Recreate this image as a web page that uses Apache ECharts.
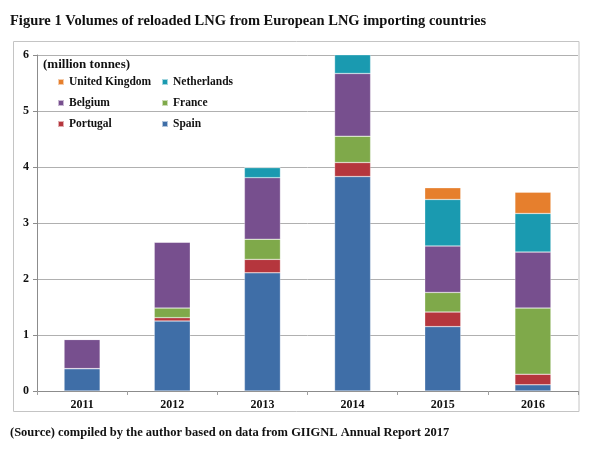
<!DOCTYPE html>
<html>
<head>
<meta charset="utf-8">
<script src="https://cdn.jsdelivr.net/npm/echarts@6/dist/echarts.min.js"></script>
<style>
html, body { margin: 0; padding: 0; background: #fff; }
#main { width: 599px; height: 461px; }
</style>
</head>
<body>
<div id="main"></div>
<script>
// 年份与各国数据 (million tonnes)
var years = ['2011', '2012', '2013', '2014', '2015', '2016'];
var spain = [0.40, 1.25, 2.11, 3.83, 1.15, 0.11];
var portugal = [0, 0.06, 0.24, 0.25, 0.26, 0.19];
var france = [0, 0.17, 0.36, 0.47, 0.35, 1.18];
var belgium = [0.52, 1.18, 1.10, 1.12, 0.83, 1.00];
var netherlands = [0, 0, 0.18, 0.35, 0.83, 0.69];
var uk = [0, 0, 0, 0, 0.21, 0.38];
var yTicks = [0, 1, 2, 3, 4, 5, 6];

var serif = '"Liberation Serif", "DejaVu Serif", serif';

var myChart = echarts.init(document.getElementById('main'));

function mkSeries(name, data, color) {
    return {
        name: name,
        type: 'bar',
        stack: 'total',
        barWidth: 36,
        data: data,
        itemStyle: { color: color, borderColor: 'rgba(255,255,255,0.6)', borderWidth: 0.5 }
    };
}

var legendText = { fontFamily: serif, fontWeight: 'bold', fontSize: 11.5, color: '#111' };

var option = {
    animation: false,
    title: [{
        text: 'Figure 1 Volumes of reloaded LNG from European LNG importing countries',
        left: 10, top: 14, padding: 0,
        textStyle: { fontFamily: serif, fontWeight: 'bold', fontSize: 14.5, color: '#111' }
    }, {
        text: '(Source) compiled by the author based on data from GIIGNL Annual Report 2017',
        left: 10, top: 426, padding: 0,
        textStyle: { fontFamily: serif, fontWeight: 'bold', fontSize: 12.5, color: '#111' }
    }],
    graphic: [{
        type: 'rect',
        shape: { x: 13.5, y: 41.5, width: 565.5, height: 370 },
        style: { fill: null, stroke: '#c4c4c4', lineWidth: 1 },
        silent: true
    }, {
        type: 'text',
        left: 43, top: 58,
        style: { text: '(million tonnes)', font: 'bold 13px ' + serif, fill: '#111' }
    }],
    legend: [{
        orient: 'vertical',
        left: 57, top: 76, padding: 0,
        itemWidth: 6, itemHeight: 6, itemGap: 9, icon: 'rect',
        data: ['United Kingdom', 'Belgium', 'Portugal'],
        textStyle: legendText
    }, {
        orient: 'vertical',
        left: 161, top: 76, padding: 0,
        itemWidth: 6, itemHeight: 6, itemGap: 9, icon: 'rect',
        data: ['Netherlands', 'France', 'Spain'],
        textStyle: legendText
    }],
    grid: { left: 37, right: 21, top: 55, bottom: 70 },
    xAxis: {
        type: 'category',
        data: years,
        axisLine: { lineStyle: { color: '#8c8c8c' } },
        axisTick: { show: true, length: 4, lineStyle: { color: '#a0a0a0' } },
        axisLabel: { fontFamily: serif, fontWeight: 'bold', fontSize: 12, color: '#111', margin: 8 }
    },
    yAxis: {
        type: 'value',
        min: yTicks[0], max: yTicks[yTicks.length - 1], interval: 1,
        axisLine: { show: true, lineStyle: { color: '#8c8c8c' } },
        axisTick: { show: true, length: 4, lineStyle: { color: '#8c8c8c' } },
        axisLabel: { fontFamily: serif, fontWeight: 'bold', fontSize: 12, color: '#111', margin: 8 },
        splitLine: { lineStyle: { color: '#b0b0b0' } }
    },
    series: [
        mkSeries('Spain', spain, '#3F6EA7'),
        mkSeries('Portugal', portugal, '#B5363D'),
        mkSeries('France', france, '#7FA94A'),
        mkSeries('Belgium', belgium, '#774F8E'),
        mkSeries('Netherlands', netherlands, '#1A9AB0'),
        mkSeries('United Kingdom', uk, '#E67F2D')
    ]
};

myChart.setOption(option);
</script>
</body>
</html>
